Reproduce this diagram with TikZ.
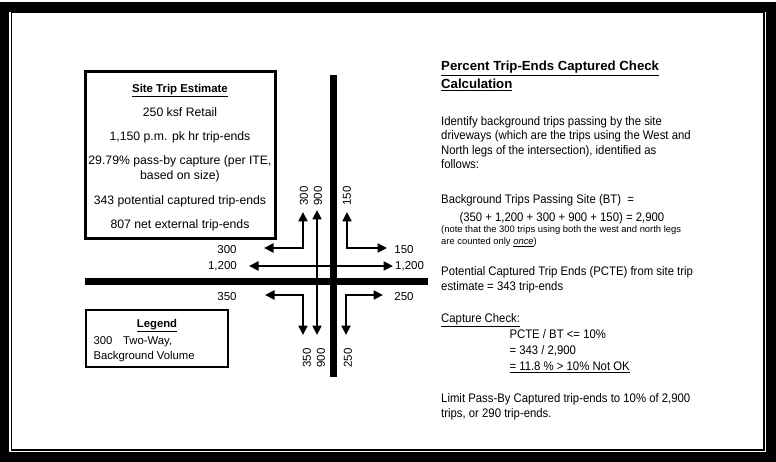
\documentclass[tikz,border=0pt]{standalone}
\usepackage{fontspec}
\setmainfont{Liberation Sans}
\newfontfamily\narrowsans{Liberation Sans}[FakeStretch=0.915]
\usetikzlibrary{arrows.meta}
\begin{document}
\begin{tikzpicture}[x=1pt,y=-1pt,
  arr/.style={line width=2.3pt,line join=miter,{Triangle[length=9.5pt,width=9pt]}-{Triangle[length=9.5pt,width=9pt]}},
  road/.style={fill=black},
  boxtxt/.style={inner sep=0pt,anchor=base,font=\fontsize{12.25}{14}\selectfont},
  rtxt/.style={inner sep=0pt,anchor=base west,font=\narrowsans\fontsize{12.4}{14}\selectfont},
  notetxt/.style={inner sep=0pt,anchor=base west,font=\fontsize{9.4}{11}\selectfont},
  lbl/.style={inner sep=0pt,font=\fontsize{11.5}{13}\selectfont},
  legtxt/.style={inner sep=0pt,anchor=base west,font=\fontsize{11.3}{13}\selectfont}]
\useasboundingbox (0,0) rectangle (776,462);
% frame
\fill[black] (0,2) rectangle (776,462);
\fill[white] (9,12) rectangle (766,452);
\fill[black] (10.5,12) rectangle (764.5,450.5);
\fill[white] (12,13.5) rectangle (763,448.5);
% site trip estimate box
\draw[line width=3pt] (85.5,71.5) rectangle (275,239);
\node[boxtxt,font=\bfseries\fontsize{11.4}{14}\selectfont] (st) at (180,92.3) {\underline{Site Trip Estimate}};
\node[boxtxt] (s1) at (180,116.6) {250 ksf Retail};
\node[boxtxt] (s2) at (180,140.6) {1,150 p.m. pk hr trip-ends};
\node[boxtxt] (s3) at (180,165) {29.79\% pass-by capture (per ITE,};
\node[boxtxt] (s4) at (180,180) {based on size)};
\node[boxtxt] (s5) at (180,204.6) {343 potential captured trip-ends};
\node[boxtxt] (s6) at (180,228.3) {807 net external trip-ends};
% roads
\fill[road] (85,278) rectangle (428,285);
\fill[road] (330,75) rectangle (337,377);
% arrows
\coordinate (nwA) at (264,248); \coordinate (nwC) at (303,248); \coordinate (nwB) at (303,212);
\draw[arr] (nwA) -- (nwC) -- (nwB);
\coordinate (tA) at (317,210); \coordinate (tB) at (317,335);
\draw[arr] (tA) -- (tB);
\coordinate (neA) at (347,212); \coordinate (neC) at (347,248); \coordinate (neB) at (387,248);
\draw[arr] (neA) -- (neC) -- (neB);
\coordinate (hA) at (249,266); \coordinate (hB) at (393,266);
\draw[arr] (hA) -- (hB);
\coordinate (swA) at (265,295); \coordinate (swC) at (303,295); \coordinate (swB) at (303,335);
\draw[arr] (swA) -- (swC) -- (swB);
\coordinate (seA) at (346,335); \coordinate (seC) at (346,295); \coordinate (seB) at (383,295);
\draw[arr] (seA) -- (seC) -- (seB);
% labels
\node[lbl] (l300) at (227,250) {300};
\node[lbl,anchor=east] (l1200a) at (237,266) {1,200};
\node[lbl] (l150) at (404,250) {150};
\node[lbl,anchor=west] (l1200b) at (395,266) {1,200};
\node[lbl] (l350) at (227,297) {350};
\node[lbl] (l250) at (404,297) {250};
\node[lbl,rotate=90] (r300) at (304,196) {300};
\node[lbl,rotate=90] (r900a) at (318,196) {900};
\node[lbl,rotate=90] (r150) at (347,196) {150};
\node[lbl,rotate=90] (r350) at (307,358) {350};
\node[lbl,rotate=90] (r900b) at (321,358) {900};
\node[lbl,rotate=90] (r250) at (348,358) {250};
% legend
\draw[line width=1.8pt] (86,310) rectangle (228,367);
\node[legtxt,anchor=base,font=\bfseries\fontsize{11.3}{13}\selectfont] (lg) at (157,327.5) {\underline{Legend}};
\node[legtxt] (lg1) at (93.3,344.2) {300};
\node[legtxt] (lg2) at (123,344.2) {Two-Way,};
\node[legtxt] (lg3) at (93.3,359) {Background Volume};
% right text
\node[rtxt,font=\bfseries\fontsize{13.2}{15}\selectfont] (t1) at (441,70.7) {\underline{Percent Trip-Ends Captured Check}};
\node[rtxt,font=\bfseries\fontsize{13.2}{15}\selectfont] (t2) at (441,89) {\underline{Calculation}};
\node[rtxt] (p1) at (441,125.3) {Identify background trips passing by the site};
\node[rtxt] (p2) at (441,139.6) {driveways (which are the trips using the West and};
\node[rtxt] (p3) at (441,154.3) {North legs of the intersection), identified as};
\node[rtxt] (p4) at (441,168.6) {follows:};
\node[rtxt] (b1) at (441,203.6) {Background Trips Passing Site (BT) \ =};
\node[rtxt] (b2) at (459.3,221.3) {(350 + 1,200 + 300 + 900 + 150) = 2,900};
\node[notetxt] (n1) at (441,233) {(note that the 300 trips using both the west and north legs};
\node[notetxt] (n2) at (441,244.7) {are counted only \underline{\itshape once})};
\node[rtxt] (c1) at (441,275.3) {Potential Captured Trip Ends (PCTE) from site trip};
\node[rtxt] (c2) at (441,290.3) {estimate = 343 trip-ends};
\node[rtxt] (k0) at (441,322.6) {\underline{Capture Check:}};
\node[rtxt] (k1) at (509.3,338.6) {PCTE / BT <= 10\%};
\node[rtxt] (k2) at (509.3,354.3) {= 343 / 2,900};
\node[rtxt] (k3) at (509.3,370.3) {\underline{= 11.8 \% > 10\% Not OK}};
\node[rtxt] (m1) at (441,402) {Limit Pass-By Captured trip-ends to 10\% of 2,900};
\node[rtxt] (m2) at (441,417) {trips, or 290 trip-ends.};
\end{tikzpicture}
\end{document}
